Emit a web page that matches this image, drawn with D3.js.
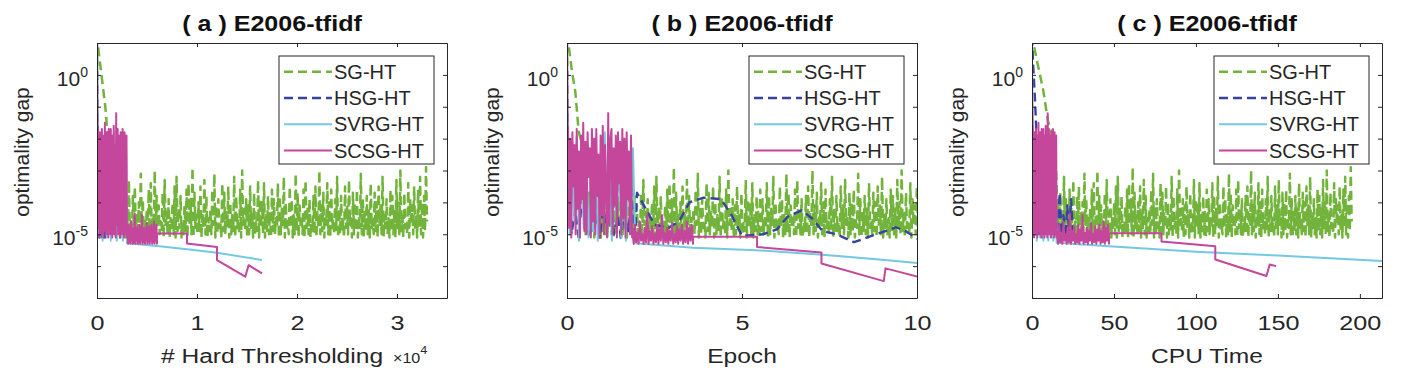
<!DOCTYPE html>
<html>
<head>
<meta charset="utf-8">
<script src="https://cdn.jsdelivr.net/npm/d3@7"></script>
<style>
  body { margin: 0; background: #fff; }
  svg { font-family: Arial, "Liberation Sans", sans-serif; }
</style>
</head>
<body>
<div id="chart"></div>
<script>
// all y values are log10(optimality gap)

// shared noisy parts of each run (same run, plotted against 3 x measures)
const sgNoise = [
  -3.4,-5.0,-4.1,-4.8,-3.7,-5.1,-4.5,-4.9,-3.2,-5.1,
  -3.9,-4.7,-4.4,-5.0,-3.6,-5.1,-4.2,-4.9,-3.3,-5.0,
  -4.6,-5.1,-3.8,-4.8,-3.5,-5.0,-4.3,-5.1,-4.0,-4.9,
  -3.1,-4.7,-3.9,-5.1,-4.5,-5.0,-4.2,-4.8,-3.6,-5.1,
  -3.4,-4.9,-4.4,-5.0,-3.0,-5.1,-3.8,-4.8,-4.1,-5.0,
  -4.6,-4.9,-3.7,-5.1,-3.3,-4.7,-4.3,-5.0,-3.9,-5.1,
  -4.5,-4.8,-4.0,-5.0,-3.5,-5.1,-3.2,-4.9,-4.2,-4.8,
  -3.8,-5.1,-4.6,-5.0,-4.1,-4.9,-3.6,-5.1,-3.4,-4.7,
  -3.9,-5.0,-2.9,-5.1,-3.7,-4.8,-4.4,-5.0,-4.0,-4.9,
  -3.5,-5.1,-4.3,-4.8,-3.3,-5.0,-3.8,-5.1,-4.5,-4.9,
  -4.2,-5.0,-3.6,-4.7,-3.1,-5.1,-4.1,-5.0,-3.9,-4.8,
  -4.6,-5.1,-3.4,-4.9,-3.7,-5.0,-4.3,-4.8,-3.5,-5.1,
  -4.0,-5.0,-4.4,-4.9,-3.2,-5.1,-3.8,-4.8,-4.5,-5.0,
  -3.6,-5.1,-3.0,-4.7,-4.2,-4.9,-3.9,-5.1,-4.1,-5.0,
  -3.5,-4.8,-4.3,-5.1,-3.7,-5.0,-4.6,-4.9,-3.3,-5.1,
  -3.9,-4.8,-4.0,-5.0,-3.4,-5.1,-4.4,-4.9,-3.8,-5.0
]
const sgNoise2 = [
  -4.3,-5.1,-3.6,-4.9,-3.9,-5.0,-4.5,-4.8,-3.4,-5.1,
  -3.8,-5.0,-4.2,-4.7,-3.2,-5.1,-4.0,-4.9,-4.6,-5.0,
  -3.5,-4.8,-3.9,-5.1,-4.4,-5.0,-3.1,-4.9,-3.7,-5.1,
  -4.1,-4.7,-4.5,-5.0,-3.6,-5.1,-3.3,-4.8,-4.2,-5.0,
  -3.9,-5.1,-4.6,-4.9,-3.8,-5.0,-3.5,-5.1,-4.3,-4.8,
  -3.0,-5.0,-4.1,-4.9,-3.7,-5.1,-4.4,-4.7,-3.4,-5.0,
  -4.0,-5.1,-3.6,-4.8,-4.5,-5.0,-3.9,-4.9,-3.2,-5.1,
  -4.2,-5.0,-3.8,-4.9,-4.6,-5.1,-3.5,-4.8,-4.1,-5.0,
  -3.3,-4.7,-4.4,-5.1,-3.7,-5.0,-4.0,-4.9,-3.6,-5.1,
  -4.5,-4.8,-3.1,-5.0,-3.9,-5.1,-4.3,-4.9,-3.8,-5.0,
  -4.2,-5.1,-3.4,-4.8,-4.6,-5.0,-3.7,-4.9,-4.0,-5.1,
  -3.5,-4.7,-4.1,-5.0,-3.2,-5.1,-4.4,-4.8,-3.9,-5.0,
  -4.5,-5.1,-3.6,-4.9,-3.8,-5.0,-4.2,-5.1,-3.3,-4.8,
  -4.0,-5.0,-3.0,-4.9,-4.3,-5.1,-3.7,-4.8,-4.6,-5.0,
  -3.4,-5.1,-3.9,-4.7,-4.1,-5.0,-3.5,-4.9,-4.4,-5.1,
  -3.6,-4.8,-3.2,-5.0,-4.0,-5.1,-3.8,-4.9,-2.9,-4.6
]
const hsgNoise = [
  -3.6,-5.0,-4.2,-5.1,-3.8,-4.7,-5.0,-3.9,-4.5,-5.1,
  -4.0,-4.8,-3.7,-5.0,-4.4,-5.1,-4.1,-4.9,-3.9,-5.0
]
const svrgNoise = [
  -1.6,-5.0,-2.4,-4.6,-1.9,-5.2,-3.0,-4.8,-2.2,-5.1,
  -3.6,-4.9,-2.0,-5.2,-2.8,-4.4,-1.8,-5.0,-2.6,-5.2,
  -3.2,-4.7,-2.1,-5.1,-2.9,-5.2,-2.5,-4.8,-2.3,-5.2
]
const scsgBurst = [
  -1.6,-4.8,-2.0,-5.1,-1.8,-3.5,-2.2,-5.0,-1.7,-4.2,
  -2.4,-5.1,-1.9,-3.9,-1.5,-4.9,-2.1,-5.0,-1.8,-3.2,
  -2.3,-5.1,-1.7,-4.6,-2.0,-5.0,-1.7,-3.8,-2.5,-5.1,
  -1.9,-4.4,-1.6,-5.0,-2.2,-3.6,-5.1,-1.2,-4.7,-2.0,
  -1.7,-5.0,-2.3,-4.1,-1.9,-5.1,-1.8,-3.4,-2.1,-5.0,
  -1.7,-4.5,-2.0,-5.1,-1.8,-3.9,-2.4,-5.0,-1.9,-5.1
]
const scsgBand = [
  -4.9,-5.3,-4.7,-5.25,-4.95,-5.3,-4.6,-5.2,-5.0,-5.3,
  -4.8,-5.25,-4.35,-5.3,-4.9,-5.2,-4.75,-5.3,-5.0,-5.25,
  -4.7,-5.3,-4.85,-5.2,-4.4,-5.3,-4.95,-5.25,-4.8,-5.3,
  -4.9,-5.2,-4.65,-5.3,-5.0,-5.25,-4.75,-5.3,-4.85,-5.2,
  -4.7,-5.3,-4.9,-5.25,-4.6,-5.3,-4.8,-5.2,-4.7,-5.3
]

// (a) x in units of 1e4 hard thresholdings
const sgHeadA = [[0,1.3],[0.016,0.75],[0.083,-1.0],[0.10,-1.65],[0.13,-2.3]]
const sgSpanA = [[0.14, 1.72], [1.73, 3.3]]
const hsgHeadA = [[0,1.0],[0.004,-1.2]]
const hsgSpanA = [0.01, 0.10]
const svrgHeadA = [[0,1.0]]
const svrgSpanA = [0.006, 0.30]
const svrgTailA = [[0.30,-5.28],[0.60,-5.37],[0.90,-5.47],[1.20,-5.58],[1.65,-5.81]]
const scsgHeadA = [[0,1.3],[0.005,-1.6]]
const scsgBurstA = [0.01, 0.30]
const scsgBandA = [0.305, 0.60]
const scsgTailA = [[0.60,-4.98],[0.90,-4.98],[0.90,-5.29],[1.20,-5.40],[1.20,-5.81],[1.483,-6.33],[1.516,-5.97],[1.65,-6.23]]

// (b) x in epochs
const sgHeadB = [[0,1.3],[0.05,0.9],[0.14,0.12],[0.24,-0.55],[0.33,-1.75],[0.45,-2.3]]
const sgSpanB = [[0.5, 5.45], [5.46, 10.4]]
const hsgHeadB = [[0,1.0],[0.01,-1.2]]
const hsgSpanB = [0.03, 1.95]
const hsgTailB = [[2.0,-3.7],[2.2,-4.1],[2.5,-4.7],[2.9,-4.8],[3.2,-4.6],[3.5,-4.0],[3.9,-3.85],[4.4,-3.9],
  [4.7,-4.4],[5.0,-5.05],[5.6,-5.0],[6.0,-4.85],[6.3,-4.45],[6.7,-4.25],[7.0,-4.5],[7.3,-4.9],[7.7,-5.0],
  [8.2,-5.25],[8.7,-5.05],[9.1,-4.9],[9.4,-4.78],[9.7,-4.92],[10.1,-5.2]]
const svrgHeadB = [[0,1.0]]
const svrgSpanB = [0.01, 1.95]
const svrgTailB = [[1.95,-5.28],[3.6,-5.42],[5.4,-5.50],[7.3,-5.64],[9.0,-5.80],[10.2,-5.92]]
const scsgHeadB = [[0,1.3],[0.02,-1.6]]
const scsgBurstB = [0.03, 1.86]
const scsgBandB = [1.87, 3.6]
const scsgTailB = [[3.6,-5.08],[5.43,-5.08],[5.43,-5.40],[7.27,-5.57],[7.27,-5.92],[9.05,-6.47],[9.1,-6.07],[10.2,-6.38]]

// (c) x in CPU seconds
const sgHeadC = [[0,1.3],[0.8,1.0],[3.7,0.28],[6.7,-0.44],[9.8,-1.47],[11.8,-1.78],[14,-2.3]]
const sgSpanC = [[15, 105], [105.5, 195]]
const hsgHeadC = [[0,1.2],[0.7,0.3],[1.8,-0.75],[2.5,-1.6]]
const hsgSpanC = [3, 25]
const svrgHeadC = [[0,0.17]]
const svrgSpanC = [0.4, 15]
const svrgTailC = [[15,-5.27],[47,-5.38],[100,-5.55],[150,-5.67],[215,-5.84]]
const scsgHeadC = [[0,0.0],[0.3,-1.6]]
const scsgBurstC = [0.5, 15]
const scsgBandC = [15.3, 47]
const scsgTailC = [[47,-4.97],[79,-4.97],[79,-5.23],[111.8,-5.38],[111.8,-5.79],[143,-6.31],[145,-5.95],[149,-6.0]]

const names = ['SG-HT', 'HSG-HT', 'SVRG-HT', 'SCSG-HT']
const colors = ['#72b33c', '#3a42a0', '#74c8e2', '#c4479b']
const dashes = ['9,5', '9,5', null, null]
const widths = [2.5, 2.4, 2, 2]

// head points, evenly sampled noisy segments, then tail points
const series = (head, segs, tail) => {
  let pts = head.slice()
  segs.forEach(([vals, span]) => {
    let s = d3.scaleLinear().domain([0, vals.length - 1]).range(span)
    vals.forEach((v, i) => pts.push([s(i), v]))
  })
  return pts.concat(tail)
}

const panels = [
  { left: 97, title: '( a ) E2006-tfidf', xlab: '# Hard Thresholding', xmax: 3.5, ticks: [0, 1, 2, 3], exp: true,
    lines: [
      series(sgHeadA, [[sgNoise, sgSpanA[0]], [sgNoise2, sgSpanA[1]]], []),
      series(hsgHeadA, [[hsgNoise, hsgSpanA]], []),
      series(svrgHeadA, [[svrgNoise, svrgSpanA]], svrgTailA),
      series(scsgHeadA, [[scsgBurst, scsgBurstA], [scsgBand, scsgBandA]], scsgTailA)
    ] },
  { left: 567, title: '( b ) E2006-tfidf', xlab: 'Epoch', xmax: 10, ticks: [0, 5, 10], exp: false,
    lines: [
      series(sgHeadB, [[sgNoise, sgSpanB[0]], [sgNoise2, sgSpanB[1]]], []),
      series(hsgHeadB, [[hsgNoise, hsgSpanB]], hsgTailB),
      series(svrgHeadB, [[svrgNoise, svrgSpanB]], svrgTailB),
      series(scsgHeadB, [[scsgBurst, scsgBurstB], [scsgBand, scsgBandB]], scsgTailB)
    ] },
  { left: 1032, title: '( c ) E2006-tfidf', xlab: 'CPU Time', xmax: 213.5, ticks: [0, 50, 100, 150, 200], exp: false,
    lines: [
      series(sgHeadC, [[sgNoise, sgSpanC[0]], [sgNoise2, sgSpanC[1]]], []),
      series(hsgHeadC, [[hsgNoise, hsgSpanC]], []),
      series(svrgHeadC, [[svrgNoise, svrgSpanC]], svrgTailC),
      series(scsgHeadC, [[scsgBurst, scsgBurstC], [scsgBand, scsgBandC]], scsgTailC)
    ] }
]

const plotW = 350, plotTop = 43, plotBottom = 298
const ink = '#262626'
const decades = d3.range(-7, 2).map(k => Math.pow(10, k))

const svg = d3.select('#chart').append('svg')
  .attr('width', 1404)
  .attr('height', 390)

panels.forEach((p, pi) => {
  let x = d3.scaleLinear().domain([0, p.xmax]).range([p.left, p.left + plotW])
  let y = d3.scaleLog().domain([1e-7, 1e1]).range([plotBottom, plotTop])
  let g = svg.append('g')

  g.append('clipPath').attr('id', 'clip' + pi)
    .append('rect')
    .attr('x', p.left).attr('y', plotTop)
    .attr('width', plotW).attr('height', plotBottom - plotTop)

  // data lines
  let line = d3.line().x(d => x(d[0])).y(d => y(Math.pow(10, d[1])))
  let plot = g.append('g').attr('clip-path', `url(#clip${pi})`)
  p.lines.forEach((pts, i) => {
    plot.append('path')
      .datum(pts)
      .attr('d', line)
      .attr('fill', 'none')
      .attr('stroke', colors[i])
      .attr('stroke-width', widths[i])
      .attr('stroke-dasharray', dashes[i])
      .attr('stroke-linejoin', 'round')
  })

  // box + ticks on all four sides (inward)
  g.append('g')
    .attr('transform', `translate(0,${plotBottom})`)
    .call(d3.axisBottom(x).tickValues(p.ticks).tickFormat(d3.format('d'))
      .tickSizeInner(-4).tickSizeOuter(0).tickPadding(17))
    .call(a => a.selectAll('text')
      .attr('fill', ink).attr('font-size', 21)
      .attr('transform', 'scale(1.2,1)'))
  g.append('g')
    .attr('transform', `translate(0,${plotTop})`)
    .call(d3.axisTop(x).tickValues(p.ticks).tickSizeInner(-4).tickSizeOuter(0).tickFormat(''))
  g.append('g')
    .attr('transform', `translate(${p.left},0)`)
    .call(d3.axisLeft(y).tickValues(decades).tickSizeInner(-4).tickSizeOuter(0).tickFormat(''))
  g.append('g')
    .attr('transform', `translate(${p.left + plotW},0)`)
    .call(d3.axisRight(y).tickValues(decades).tickSizeInner(-4).tickSizeOuter(0).tickFormat(''))
  g.selectAll('.domain, .tick line').attr('stroke', ink)

  // y tick labels 10^0 and 10^-5
  ;[0, -5].forEach(k => {
    let t = g.append('text')
      .attr('x', p.left - 9)
      .attr('y', y(Math.pow(10, k)) + 11)
      .attr('text-anchor', 'end')
      .attr('fill', ink)
      .attr('font-size', 21)
    t.append('tspan').text('10')
    t.append('tspan').attr('font-size', 14).attr('dy', -9).text(k)
  })

  // title
  g.append('text')
    .attr('transform', `translate(${p.left + plotW / 2},31) scale(1.14,1)`)
    .attr('text-anchor', 'middle')
    .attr('font-size', 22)
    .attr('font-weight', 'bold')
    .attr('fill', '#111')
    .text(p.title)

  // x label
  g.append('text')
    .attr('transform', `translate(${p.left + plotW / 2},363) scale(1.17,1)`)
    .attr('text-anchor', 'middle')
    .attr('font-size', 21)
    .attr('fill', ink)
    .text(p.xlab)

  if (p.exp) {
    let t = g.append('text')
      .attr('transform', `translate(${p.left + plotW - 54},363) scale(1.15,1)`)
      .attr('font-size', 14)
      .attr('fill', ink)
    t.append('tspan').text('\u00d710')
    t.append('tspan').attr('font-size', 11).attr('dy', -9).text('4')
  }

  // y label
  g.append('text')
    .attr('transform', `translate(${p.left - 68},152) rotate(-90)`)
    .attr('text-anchor', 'middle')
    .attr('font-size', 21)
    .attr('fill', ink)
    .text('optimality gap')

  // legend
  let lx = p.left + plotW - 168, ly = plotTop + 13
  let lg = g.append('g').attr('transform', `translate(${lx},${ly})`)
  lg.append('rect')
    .attr('width', 155).attr('height', 108)
    .attr('fill', '#fff').attr('stroke', ink).attr('stroke-width', 1)
  names.forEach((n, i) => {
    let yy = 15.7 + i * 26.3
    lg.append('line')
      .attr('x1', 5).attr('x2', 53).attr('y1', yy).attr('y2', yy)
      .attr('stroke', colors[i])
      .attr('stroke-width', widths[i])
      .attr('stroke-dasharray', dashes[i])
    lg.append('text')
      .attr('x', 55).attr('y', yy).attr('dy', '0.35em')
      .attr('font-size', 20)
      .attr('fill', ink)
      .text(n)
  })
})
</script>
</body>
</html>
